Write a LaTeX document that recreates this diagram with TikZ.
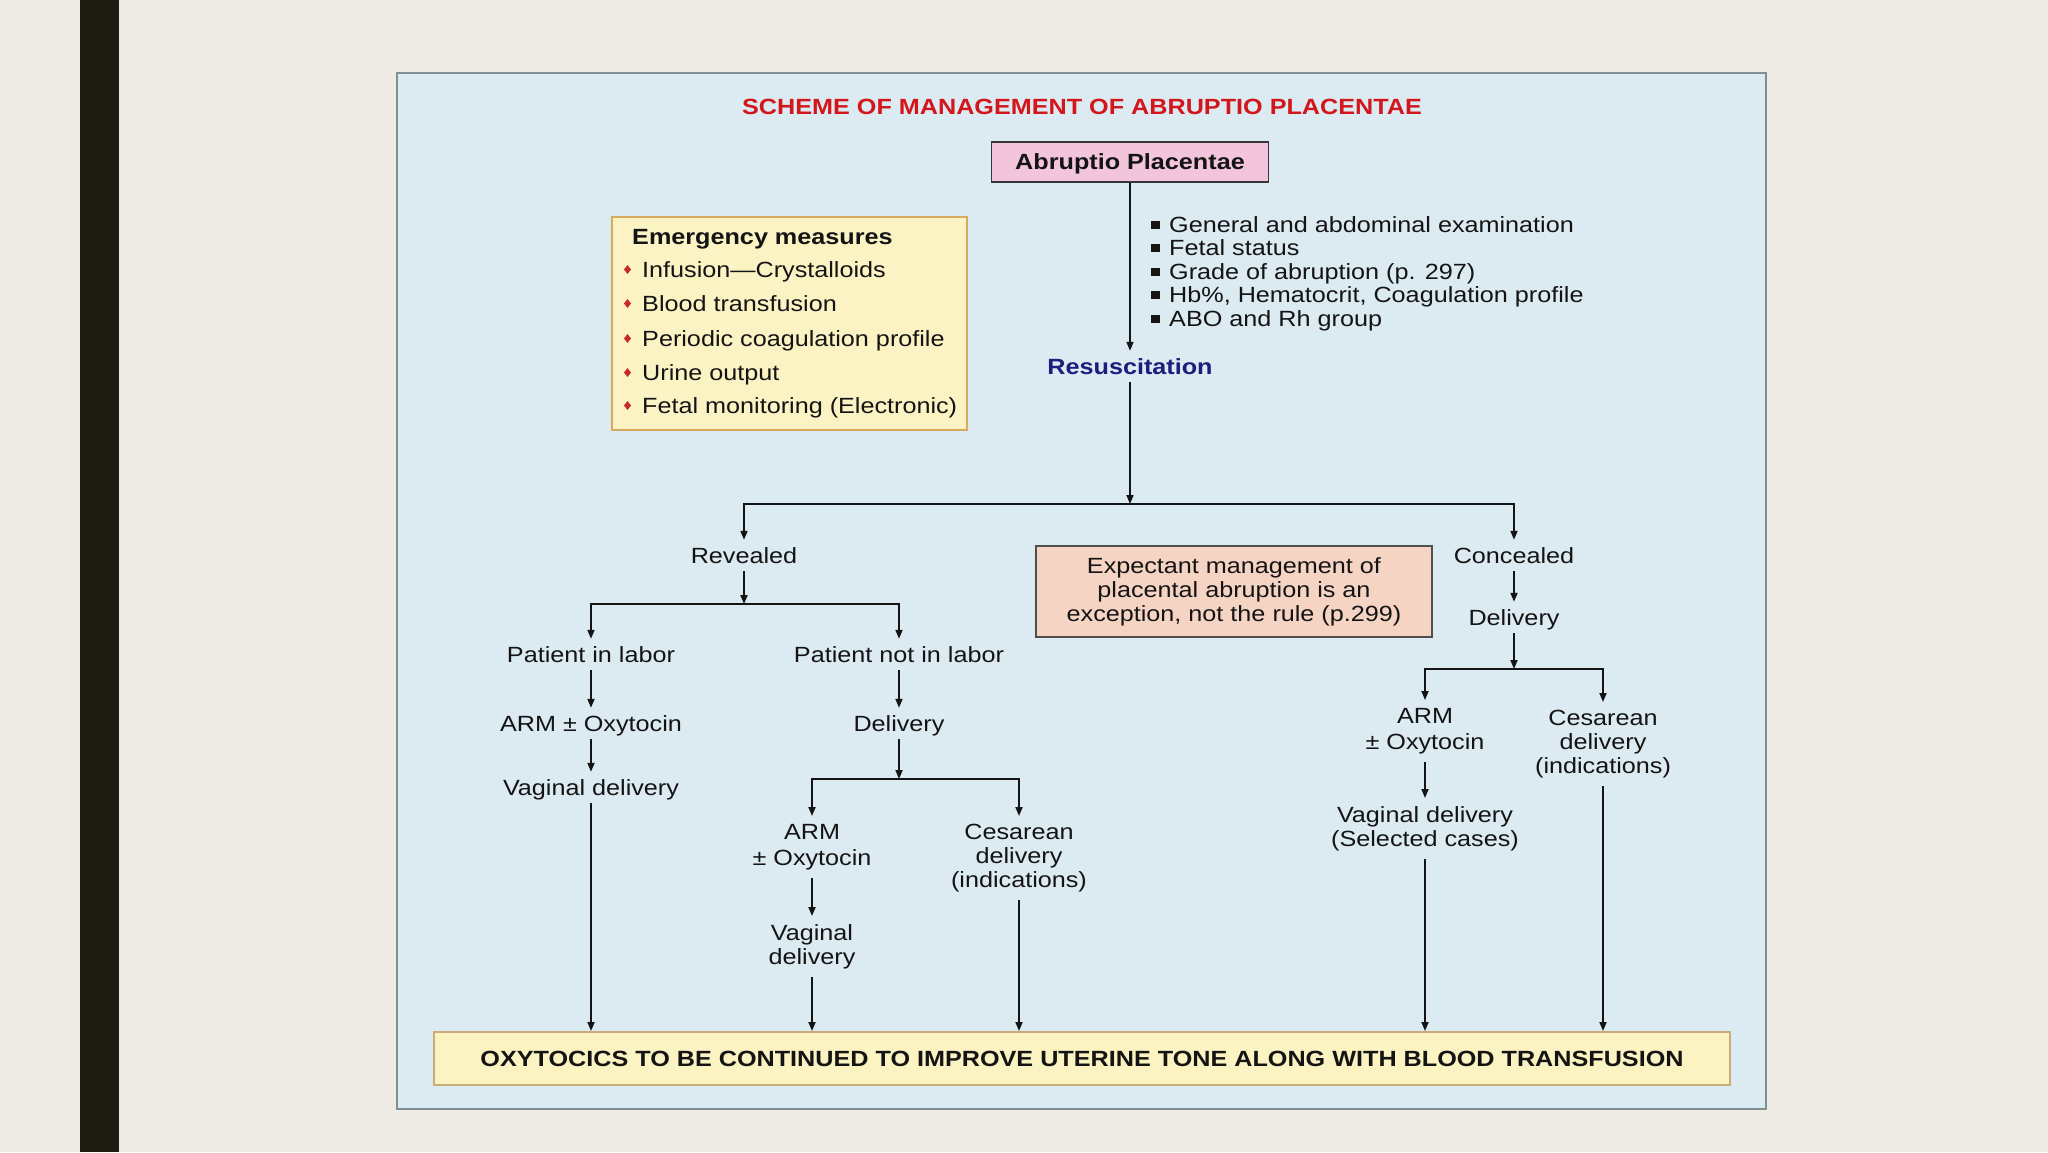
\documentclass[tikz,border=0pt]{standalone}
\usepackage{fontspec}
\setmainfont{Liberation Sans}[FakeStretch=1.145]
\usetikzlibrary{arrows.meta}
\definecolor{slidebg}{HTML}{EEEBE5}
\definecolor{barcol}{HTML}{1B1B12}
\definecolor{panelfill}{HTML}{DCEAF1}
\definecolor{panelline}{HTML}{7F8F92}
\definecolor{ink}{HTML}{141414}
\definecolor{titlered}{HTML}{D3161C}
\definecolor{navy}{HTML}{1B1E7C}
\definecolor{apfill}{HTML}{F3C5DC}
\definecolor{emfill}{HTML}{FCF3C4}
\definecolor{emline}{HTML}{D6AC5C}
\definecolor{expfill}{HTML}{F6D4C4}
\definecolor{botfill}{HTML}{FBF3C1}
\definecolor{botline}{HTML}{C9AC78}
\definecolor{bulred}{HTML}{C8282A}
\begin{document}
\begin{tikzpicture}[x=1pt,y=-1pt,
  regfont/.style={font=\fontsize{22}{24}\selectfont},
  boldfont/.style={font=\fontsize{22}{24}\selectfont\bfseries},
  txt/.style={regfont, text=ink},
  lbl/.style={txt, anchor=base, text height=17pt, text depth=2pt, inner xsep=2pt, inner ysep=6pt},
  mlbl/.style={txt, anchor=north, align=center, inner xsep=2pt, inner ysep=8pt},
  lst/.style={txt, anchor=base west, inner sep=0pt},
  arr/.style={draw=ink, line width=1.8pt, -{Triangle[length=9pt,width=7pt]}},
  boxtxt/.style={txt, text height=17pt, text depth=2pt, inner sep=0pt},
]
\useasboundingbox (0,0) rectangle (2048,1152);
\fill[slidebg] (0,0) rectangle (2048,1152);
\fill[barcol] (80,0) rectangle (119,1152);
\filldraw[fill=panelfill, draw=panelline, line width=1.5pt] (397,73) rectangle (1766,1109);

% title
\node[anchor=base, inner sep=0pt, boldfont, text=titlered] (title) at (1082,114) {SCHEME OF MANAGEMENT OF ABRUPTIO PLACENTAE};

% top box
\node[boxtxt, boldfont, fill=apfill, draw=ink!85, line width=1.8pt, minimum width=277pt, minimum height=40pt] (ap) at (1130,162) {Abruptio Placentae};

\node[lbl, boldfont, text=navy] (resus) at (1130,374) {Resuscitation};
\draw[arr] (ap.south) -- (resus.north);

% check list
\foreach \b in {232,255.5,279,302.5,326}{
  \fill[ink] (1151,\b-11.5) rectangle (1160,\b-3.5);
}
\node[lst] (c1) at (1169,232) {General and abdominal examination};
\node[lst] (c2) at (1169,255.5) {Fetal status};
\node[lst] (c3) at (1169,279) {Grade of abruption (p. 297)};
\node[lst] (c4) at (1169,302.5) {Hb\%, Hematocrit, Coagulation profile};
\node[lst] (c5) at (1169,326) {ABO and Rh group};

% emergency measures
\node[draw=emline, fill=emfill, line width=1.8pt, minimum width=355pt, minimum height=213pt, anchor=north west, inner sep=0pt] (em) at (611,216) {};
\node[lst, boldfont] (emt) at (632,244) {Emergency measures};
\foreach \b in {277,311,346,380,413}{
  \fill[bulred] (624,\b-7.5) -- (627.5,\b-12) -- (631,\b-7.5) -- (627.5,\b-3) -- cycle;
}
\node[lst] (e1) at (642,277) {Infusion—Crystalloids};
\node[lst] (e2) at (642,311) {Blood transfusion};
\node[lst] (e3) at (642,346) {Periodic coagulation profile};
\node[lst] (e4) at (642,380) {Urine output};
\node[lst] (e5) at (642,413) {Fetal monitoring (Electronic)};

% first split
\coordinate (j0) at (1130,504);
\node[lbl] (revealed) at (744,563) {Revealed};
\node[lbl] (concealed) at (1514,563) {Concealed};
\draw[arr] (resus.south) -- (j0);
\draw[arr] (j0) -| (revealed.north);
\draw[arr] (j0) -| (concealed.north);

% expectant box
\node[txt, align=center, fill=expfill, draw=ink!75, line width=1.8pt, minimum width=396pt, minimum height=91pt, inner sep=0pt] (exp) at (1234,591.5) {Expectant management of\\placental abruption is an\\exception, not the rule (p.299)};

% revealed branch
\coordinate (j1) at (744,604);
\node[lbl] (pil) at (591,662) {Patient in labor};
\node[lbl] (pnil) at (899,662) {Patient not in labor};
\draw[arr] (revealed.south) -- (j1);
\draw[arr] (j1) -| (pil.north);
\draw[arr] (j1) -| (pnil.north);

\node[lbl] (arm1) at (591,731) {ARM ± Oxytocin};
\node[lbl] (vag1) at (591,795) {Vaginal delivery};
\draw[arr] (pil.south) -- (arm1.north);
\draw[arr] (arm1.south) -- (vag1.north);

\node[lbl] (del1) at (899,731) {Delivery};
\draw[arr] (pnil.south) -- (del1.north);
\coordinate (j2) at (899,779);
\draw[arr] (del1.south) -- (j2);
\node[mlbl] (arm2) at (812,816) {ARM\\[2pt]± Oxytocin};
\node[mlbl] (ces1) at (1019,816) {Cesarean\\delivery\\(indications)};
\draw[arr] (j2) -| (arm2.north);
\draw[arr] (j2) -| (ces1.north);
\node[mlbl] (vag2) at (812,916) {Vaginal\\delivery};
\draw[arr] (arm2.south) -- (vag2.north);

% concealed branch
\node[lbl] (del2) at (1514,625) {Delivery};
\draw[arr] (concealed.south) -- (del2.north);
\coordinate (j3) at (1514,669);
\draw[arr] (del2.south) -- (j3);
\node[mlbl] (arm3) at (1425,700) {ARM\\[2pt]± Oxytocin};
\node[mlbl] (ces2) at (1603,702) {Cesarean\\delivery\\(indications)};
\draw[arr] (j3) -| (arm3.north);
\draw[arr] (j3) -| (ces2.north);
\node[mlbl] (vag3) at (1425,798) {Vaginal delivery\\(Selected cases)};
\draw[arr] (arm3.south) -- (vag3.north);

% bottom box
\node[boxtxt, boldfont, fill=botfill, draw=botline, line width=2pt, minimum width=1296pt, minimum height=53pt] (bot) at (1082,1058.5) {OXYTOCICS TO BE CONTINUED TO IMPROVE UTERINE TONE ALONG WITH BLOOD TRANSFUSION};

\draw[arr] (vag1.south) -- (vag1.south |- bot.north);
\draw[arr] (vag2.south) -- (vag2.south |- bot.north);
\draw[arr] (ces1.south) -- (ces1.south |- bot.north);
\draw[arr] (vag3.south) -- (vag3.south |- bot.north);
\draw[arr] (ces2.south) -- (ces2.south |- bot.north);
\end{tikzpicture}
\end{document}
